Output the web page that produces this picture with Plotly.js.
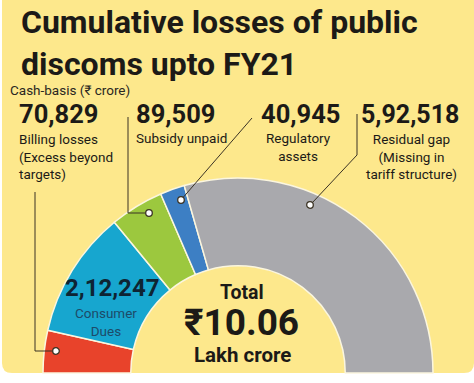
<!DOCTYPE html>
<html>
<head>
<meta charset="utf-8">
<script src="https://cdn.plot.ly/plotly-3.0.1.min.js"></script>
<style>
  html, body { margin: 0; padding: 0; background: #ffffff; overflow: hidden; }
  #wrap { width: 474px; height: 383px; overflow: hidden; }
  #chart { width: 474px; height: 568px; }
</style>
</head>
<body>
<div id="wrap"><div id="chart"></div></div>
<script>
// ---- data (₹ crore, cash basis) ----
const categories = ['Billing losses', 'Consumer Dues', 'Subsidy unpaid', 'Regulatory assets', 'Residual gap'];
const valuesCrore = [70829, 212247, 89509, 40945, 592518];
const subLabels = [
  'Billing losses<br>(Excess beyond<br>targets)',
  'Consumer<br>Dues',
  'Subsidy unpaid',
  'Regulatory<br>assets',
  'Residual gap<br>(Missing in<br>tariff structure)'
];
const sliceColors = ['#e8432b', '#17a6cf', '#9cc83e', '#3d7fc4', '#a9a9ad'];

// ---- helpers ----
const W = 474, H = 568;
const px = x => x / W;
const py = y => 1 - y / H;
function indianFormat(n) {
  const s = String(Math.round(n));
  if (s.length <= 3) return s;
  let last3 = s.slice(-3), rest = s.slice(0, -3);
  rest = rest.replace(/\B(?=(\d{2})+(?!\d))/g, ',');
  return rest + ',' + last3;
}
const total = valuesCrore.reduce((a, b) => a + b, 0);
const totalLakhCrore = (total / 1e5).toFixed(2);

const FONT = 'Roboto, "Noto Sans", sans-serif';
const DARK = '#1c1a17';
const YELLOW = '#fde88c';
const LEADER = '#3b3324';

// semicircle: visible slices + one transparent slice equal to the total
const pieValues = valuesCrore.concat([total]);
const pieColors = sliceColors.concat(['rgba(0,0,0,0)']);
const lineWidths = valuesCrore.map(() => 1.5).concat([0]);

const trace = {
  type: 'pie',
  values: pieValues,
  labels: categories.concat(['hidden']),
  sort: false,
  direction: 'clockwise',
  rotation: -90,
  hole: 0.55,
  textinfo: 'none',
  hoverinfo: 'skip',
  showlegend: false,
  marker: { colors: pieColors, line: { color: '#fbf6df', width: lineWidths } },
  domain: { x: [px(43), px(433)], y: [0, (H - 178) / H] }
};

function ann(text, x, y, opts) {
  return Object.assign({
    text: text, x: px(x), y: py(y), xref: 'paper', yref: 'paper',
    showarrow: false, xanchor: 'center', yanchor: 'middle', align: 'center',
    font: { family: FONT, size: 13.5, color: DARK }
  }, opts || {});
}
function bold(t) { return '<b>' + t + '</b>'; }

const annotations = [
  ann('Cash-basis (₹ crore)', 8, 90, { xanchor: 'left', align: 'left', font: { family: FONT, size: 13.5, color: '#2a2722' } }),
  // top callouts
  ann(bold(indianFormat(valuesCrore[0])), 17, 114, { xanchor: 'left', font: { family: FONT, size: 25.5, color: DARK } }),
  ann(subLabels[0], 17, 156, { xanchor: 'left', align: 'left' }),
  ann(bold(indianFormat(valuesCrore[2])), 134, 114, { xanchor: 'left', font: { family: FONT, size: 25.5, color: DARK } }),
  ann(subLabels[2], 134, 138, { xanchor: 'left', align: 'left' }),
  ann(bold(indianFormat(valuesCrore[3])), 300, 114, { font: { family: FONT, size: 25.5, color: DARK } }),
  ann(subLabels[3], 298, 147),
  ann(bold(indianFormat(valuesCrore[4])), 410, 114, { font: { family: FONT, size: 25, color: DARK } }),
  ann(subLabels[4], 411, 156),
  // in-slice label
  ann(bold(indianFormat(valuesCrore[1])), 112, 288, { font: { family: FONT, size: 24, color: '#0e2433' } }),
  ann(subLabels[1], 106, 322, { font: { family: FONT, size: 13.5, color: '#1d4b69' } }),
  // centre total
  ann(bold('Total'), 242, 292, { font: { family: FONT, size: 19.5, color: DARK } }),
  ann(bold('₹' + totalLakhCrore), 241, 322, { font: { family: FONT, size: 37, color: DARK } }),
  ann(bold('Lakh crore'), 242, 355, { font: { family: FONT, size: 20.5, color: DARK } })
];

function path(points) {
  return points.map((p, i) => (i ? 'L' : 'M') + px(p[0]) + ',' + py(p[1])).join(' ');
}
function dot(x, y) {
  const r = 3.3;
  return { type: 'circle', xref: 'paper', yref: 'paper', layer: 'above',
    x0: px(x - r), x1: px(x + r), y0: py(y + r), y1: py(y - r),
    fillcolor: '#ffffff', line: { color: LEADER, width: 1.3 } };
}
function leader(points) {
  return { type: 'path', xref: 'paper', yref: 'paper', layer: 'above',
    path: path(points), line: { color: LEADER, width: 1 } };
}
const R = 10;
const panelPath = 'M' + px(2) + ',' + py(0) + ' L' + px(474) + ',' + py(0) +
  ' L' + px(474) + ',' + py(373 - R) + ' Q' + px(474) + ',' + py(373) + ' ' + px(474 - R) + ',' + py(373) +
  ' L' + px(2 + R) + ',' + py(373) + ' Q' + px(2) + ',' + py(373) + ' ' + px(2) + ',' + py(373 - R) + ' Z';

const shapes = [
  { type: 'path', xref: 'paper', yref: 'paper', layer: 'below', path: panelPath, fillcolor: YELLOW, line: { width: 0 } },
  leader([[35, 192], [35, 351], [52.5, 351]]),
  leader([[128, 117], [128, 213], [145.5, 213]]),
  leader([[252, 118], [183.5, 197]]),
  leader([[357, 114], [357, 155], [312.5, 202.5]]),
  dot(56, 351), dot(149, 213), dot(181, 200), dot(310, 205)
];

const layout = {
  width: W, height: H,
  margin: { l: 0, r: 0, t: 0, b: 0 },
  paper_bgcolor: '#ffffff',
  plot_bgcolor: 'rgba(0,0,0,0)',
  showlegend: false,
  title: {
    text: '<b>Cumulative losses of public<br>discoms upto FY21</b>',
    x: px(21), xanchor: 'left', xref: 'container',
    y: py(33), yanchor: 'top', yref: 'container',
    font: { family: FONT, size: 32, color: DARK }
  },
  annotations: annotations,
  shapes: shapes
};

Plotly.newPlot('chart', [trace], layout, { displayModeBar: false, staticPlot: true });
</script>
</body>
</html>
